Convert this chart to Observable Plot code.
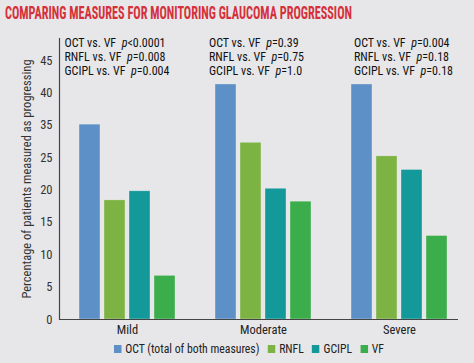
<!DOCTYPE html>
<html><head><meta charset="utf-8">
<script src="https://cdn.jsdelivr.net/npm/d3@7"></script>
<script src="https://cdn.jsdelivr.net/npm/@observablehq/plot@0.6"></script>
<style>
body{margin:0;background:#e7e7e9;width:474px;height:363px;overflow:hidden;position:relative;font-family:'Roboto Condensed','Liberation Sans Narrow','DejaVu Sans Condensed',Roboto,sans-serif;}
#title{position:absolute;left:5px;top:2px;font-size:18px;font-weight:bold;color:#d6303b;white-space:nowrap;transform-origin:0 0;letter-spacing:0;}
#chart{position:absolute;left:0;top:0;}
#legend{position:absolute;top:341px;left:114px;display:flex;align-items:center;font-size:12.5px;color:#222;white-space:nowrap;transform-origin:0 50%;}
#legend .sw{display:inline-block;width:8px;height:8px;margin-right:4px;}
#legend .it{display:flex;align-items:center;margin-right:9px;}
#legend .it:last-child{margin-right:0;}
</style></head><body>
<div id="title">COMPARING MEASURES FOR MONITORING GLAUCOMA PROGRESSION</div>
<div id="chart"></div>
<div id="legend"></div>
<script>
const FONT = "'Roboto Condensed','Liberation Sans Narrow','DejaVu Sans Condensed',Roboto,sans-serif";
const groups = ["Mild", "Moderate", "Severe"];
const measureKeys = ["OCT", "RNFL", "GCIPL", "VF"];
const measureLabels = ["OCT (total of both measures)", "RNFL", "GCIPL", "VF"];
const colors = ["#5d90c7", "#7cb342", "#13999a", "#3cad4b"];
const octValues = [30.1, 36.3, 36.3];
const rnflValues = [18.4, 27.3, 25.2];
const gciplValues = [19.8, 20.2, 23.1];
const vfValues = [6.75, 18.2, 12.9];
const pOct = ["<0.0001", "=0.39", "=0.004"];
const pRnfl = ["=0.008", "=0.75", "=0.18"];
const pGcipl = ["=0.004", "=1.0", "=0.18"];
const yTicks = [0, 5, 10, 15, 20, 25, 30, 35, 40];
const yTickLabels = ["0", "5", "10", "15", "20", "25", "35", "40", "45"];
const yLabel = "Percentage of patients measured as progressing";

const series = [octValues, rnflValues, gciplValues, vfValues];
const rows = [];
groups.forEach((g, gi) => measureKeys.forEach((m, mi) => rows.push({group: g, measure: m, value: series[mi][gi]})));
const ann = groups.map((g, gi) => ({
  group: g,
  label: `OCT vs. VF  p${pOct[gi]}\nRNFL vs. VF  p${pRnfl[gi]}\nGCIPL vs. VF  p${pGcipl[gi]}`
}));
const annDx = [5, 13.5, 22.5];

const chart = Plot.plot({
  width: 474, height: 340,
  marginTop: 38, marginBottom: 21, marginLeft: 58, marginRight: 6,
  style: {background: "transparent", fontFamily: FONT, fontSize: "12.5px", color: "#333"},
  fx: {domain: groups, padding: 0, label: null},
  x: {domain: measureKeys, paddingInner: 0.154, paddingOuter: 0.706, axis: null},
  y: {domain: [0, 43.4]},
  color: {domain: measureKeys, range: colors},
  marks: [
    Plot.axisY({ticks: yTicks, tickFormat: d => yTickLabels[yTicks.indexOf(d)], tickSize: 0, tickPadding: 7,
      label: yLabel, labelAnchor: "center", labelArrow: "none", labelOffset: 37, fontSize: 12.5, fill: "#333"}),
    Plot.axisFx({anchor: "bottom", tickSize: 0, tickPadding: 6, label: null, fontSize: 12.5, fill: "#222"}),
    Plot.barY(rows, {fx: "group", x: "measure", y: "value", fill: "measure", stroke: "#f4f4f4", strokeWidth: 0.6, strokeOpacity: 0.6}),
    Plot.ruleY(groups.slice(0, 2).map(g => ({group: g})), {fx: "group", y: d => 0, stroke: "#444", strokeWidth: 1.2}),
    Plot.ruleY(groups.slice(2).map(g => ({group: g})), {fx: "group", y: d => 0, stroke: "#444", strokeWidth: 1.2, insetRight: 9}),
    Plot.frame({anchor: "left", facetAnchor: "left", stroke: "#444", strokeWidth: 1.2}),
    ...groups.map((g, gi) => Plot.text(ann.filter(d => d.group === g), {
      fx: "group", frameAnchor: "top-left", text: "label", textAnchor: "start", lineAnchor: "top",
      dx: annDx[gi], dy: -2, lineHeight: 1.19, fontSize: 12, fill: "#111"
    }))
  ]
});
document.getElementById("chart").appendChild(chart);

// italicize the "p" in p-values
const walker = document.createTreeWalker(chart, NodeFilter.SHOW_TEXT);
const nodes = [];
while (walker.nextNode()) nodes.push(walker.currentNode);
for (const n of nodes) {
  const m = n.data.match(/^(.*VF\s+)p(.*)$/);
  if (!m) continue;
  const ns = "http://www.w3.org/2000/svg";
  const it = document.createElementNS(ns, "tspan");
  it.setAttribute("font-style", "italic");
  it.textContent = "p";
  const parent = n.parentNode;
  parent.insertBefore(document.createTextNode(m[1]), n);
  parent.insertBefore(it, n);
  parent.insertBefore(document.createTextNode(m[2]), n);
  parent.removeChild(n);
}

// legend
const legend = document.getElementById("legend");
measureKeys.forEach((k, i) => {
  const it = document.createElement("span");
  it.className = "it";
  it.innerHTML = `<span class="sw" style="background:${colors[i]}"></span>${measureLabels[i]}`;
  legend.appendChild(it);
});
const lw = legend.getBoundingClientRect().width;
legend.style.transform = `scaleX(${270 / lw})`;

// fit title width
const t = document.getElementById("title");
const w = t.getBoundingClientRect().width;
t.style.transform = `scaleX(${347 / w})`;
</script>
</body></html>
